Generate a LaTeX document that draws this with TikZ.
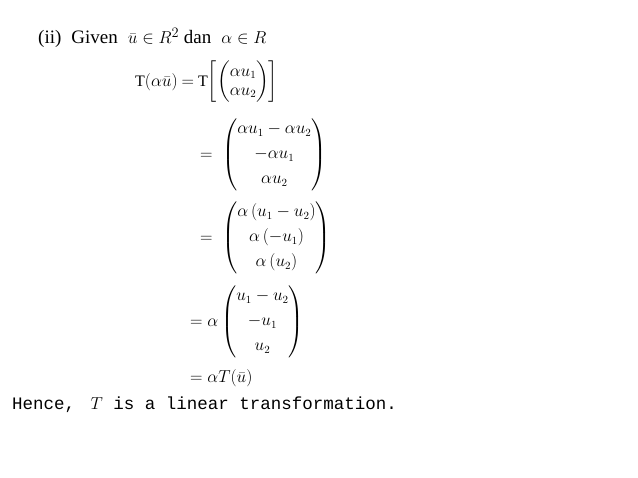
\documentclass[tikz,border=0pt]{standalone}
\usepackage{amsmath}
\usepackage{fontspec}
\setmainfont{Liberation Serif}
\newfontfamily\monof{Liberation Mono}
\begin{document}
\begin{tikzpicture}[x=1pt,y=-1pt,
  txt/.style={inner sep=0pt,font=\fontsize{19}{22}\selectfont},
  eq/.style={inner sep=0pt,font=\fontsize{16}{19}\selectfont,anchor=west}]
\useasboundingbox (0,0) rectangle (638,478);
\node[txt,anchor=west] (l1) at (38,38) {(ii)\; Given\; $\bar u\in R^2$ dan\; $\alpha\in R$};
\node[eq] (l2) at (135,82) {T$(\alpha\bar u)$ $=$ T$\left[\begin{pmatrix}\alpha u_1\\ \alpha u_2\end{pmatrix}\right]$};
\node[eq] (l3) at (200,155) {$=\;\begin{pmatrix}\alpha u_1-\alpha u_2\\[6pt] -\alpha u_1\\[6pt] \alpha u_2\end{pmatrix}$};
\node[eq] (l4) at (200,238) {$=\;\begin{pmatrix}\alpha\,(u_1-u_2)\\[6pt] \alpha\,(-u_1)\\[6pt] \alpha\,(u_2)\end{pmatrix}$};
\node[eq] (l5) at (190,322) {$=\alpha\begin{pmatrix}u_1-u_2\\[6pt] -u_1\\[6pt] u_2\end{pmatrix}$};
\node[eq] (l6) at (190,378) {$=\alpha T(\bar u)$};
\node[txt,anchor=west,font=\fontsize{17.5}{21}\selectfont\monof] (l7) at (12,405) {Hence,\; $T$ is a linear transformation.};
\end{tikzpicture}
\end{document}
